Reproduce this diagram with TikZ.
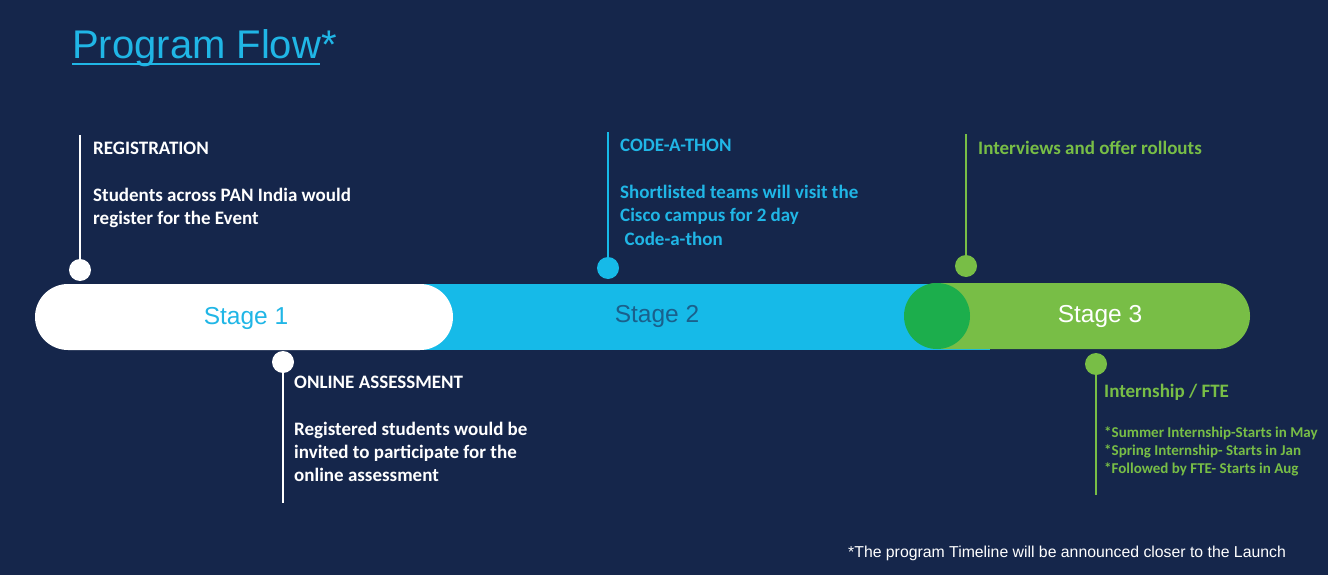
\documentclass[tikz,border=0pt]{standalone}
\usepackage{fontspec}
\setmainfont{Carlito}
\newfontfamily\hel{Liberation Sans}
\definecolor{bg}{RGB}{21,38,75}
\definecolor{cy}{RGB}{22,186,232}
\definecolor{cytext}{RGB}{32,182,230}
\definecolor{lg}{RGB}{120,190,70}
\definecolor{dg}{RGB}{28,174,76}
\definecolor{st2}{RGB}{26,96,140}
\tikzset{
  txt/.style={anchor=base west, inner sep=0pt, font=\bfseries\fontsize{19}{23}\selectfont},
  small/.style={anchor=base west, inner sep=0pt, font=\bfseries\fontsize{15}{18}\selectfont},
  dot/.style={circle, inner sep=0pt, minimum size=22pt},
  stem/.style={line width=2.5pt},
  stagelbl/.style={font=\hel\fontsize{24.5}{28}\selectfont, inner sep=0pt},
}
\begin{document}
\begin{tikzpicture}[x=1pt,y=-1pt]
\fill[bg] (0,0) rectangle (1328,575);
\useasboundingbox (0,0) rectangle (1328,575);

% title
\node[anchor=base west, inner sep=0pt, text=cytext, font=\hel\fontsize{40}{44}\selectfont] (title) at (72,59) {Program Flow*};
\draw[cytext, line width=2pt] (72,64) -- (320,64);

% bars
\node[fill=cy, minimum width=690pt, minimum height=66pt, inner sep=0pt] (bar2) at (645,316.5) {};
\node[fill=white, rounded corners=33pt, minimum width=418pt, minimum height=66pt, inner sep=0pt] (bar1) at (244,317) {};
\node[fill=lg, rounded corners=33pt, minimum width=345pt, minimum height=66pt, inner sep=0pt] (bar3) at (1077.5,316) {};
\node[fill=dg, circle, minimum size=66pt, inner sep=0pt] (joint) at (937,316) {};
\node[stagelbl, text=cytext] (s1) at (246,318) {Stage 1};
\node[stagelbl, text=st2] (s2) at (657,316) {Stage 2};
\node[stagelbl, text=white] (s3) at (1100,316) {Stage 3};

% registration
\node[dot, fill=white] (d1) at (80,270) {};
\coordinate (e1) at (80,135);
\draw[stem, white] (d1.center) -- (e1);
\node[txt, text=white] (h1) at (93,155) {REGISTRATION};
\node[txt, text=white, align=left] (b1) at (93,224) {Students across PAN India would\\register for the Event};

% online assessment
\node[dot, fill=white] (d2) at (283,362) {};
\coordinate (e2) at (283,503);
\draw[stem, white] (d2.center) -- (e2);
\node[txt, text=white] (h2) at (294,388) {ONLINE ASSESSMENT};
\node[txt, text=white, align=left] (b2) at (294,481) {Registered students would be\\invited to participate for the\\online assessment};

% code-a-thon
\node[dot, fill=cy] (d3) at (608,268) {};
\coordinate (e3) at (608,132);
\draw[stem, cy] (d3.center) -- (e3);
\node[txt, text=cytext] (h3) at (620,152) {CODE-A-THON};
\node[txt, text=cytext, align=left, font=\bfseries\fontsize{19}{23.5}\selectfont] (b3) at (620,245) {Shortlisted teams will visit the\\Cisco campus for 2 day\\\ Code-a-thon};

% interviews
\node[dot, fill=lg] (d4) at (966,266) {};
\coordinate (e4) at (966,134);
\draw[stem, lg] (d4.center) -- (e4);
\node[txt, text=lg] (h4) at (978,155) {Interviews and offer rollouts};

% internship
\node[dot, fill=lg] (d5) at (1096,364) {};
\coordinate (e5) at (1096,495);
\draw[stem, lg] (d5.center) -- (e5);
\node[txt, text=lg] (h5) at (1104,397) {Internship / FTE};
\node[small, text=lg, align=left] (b5) at (1104,473) {*Summer Internship-Starts in May\\*Spring Internship- Starts in Jan\\*Followed by FTE- Starts in Aug};

% footnote
\node[anchor=base west, inner sep=0pt, text=white, font=\hel\fontsize{15.8}{18}\selectfont] (foot) at (848,557) {*The program Timeline will be announced closer to the Launch};
\end{tikzpicture}
\end{document}
